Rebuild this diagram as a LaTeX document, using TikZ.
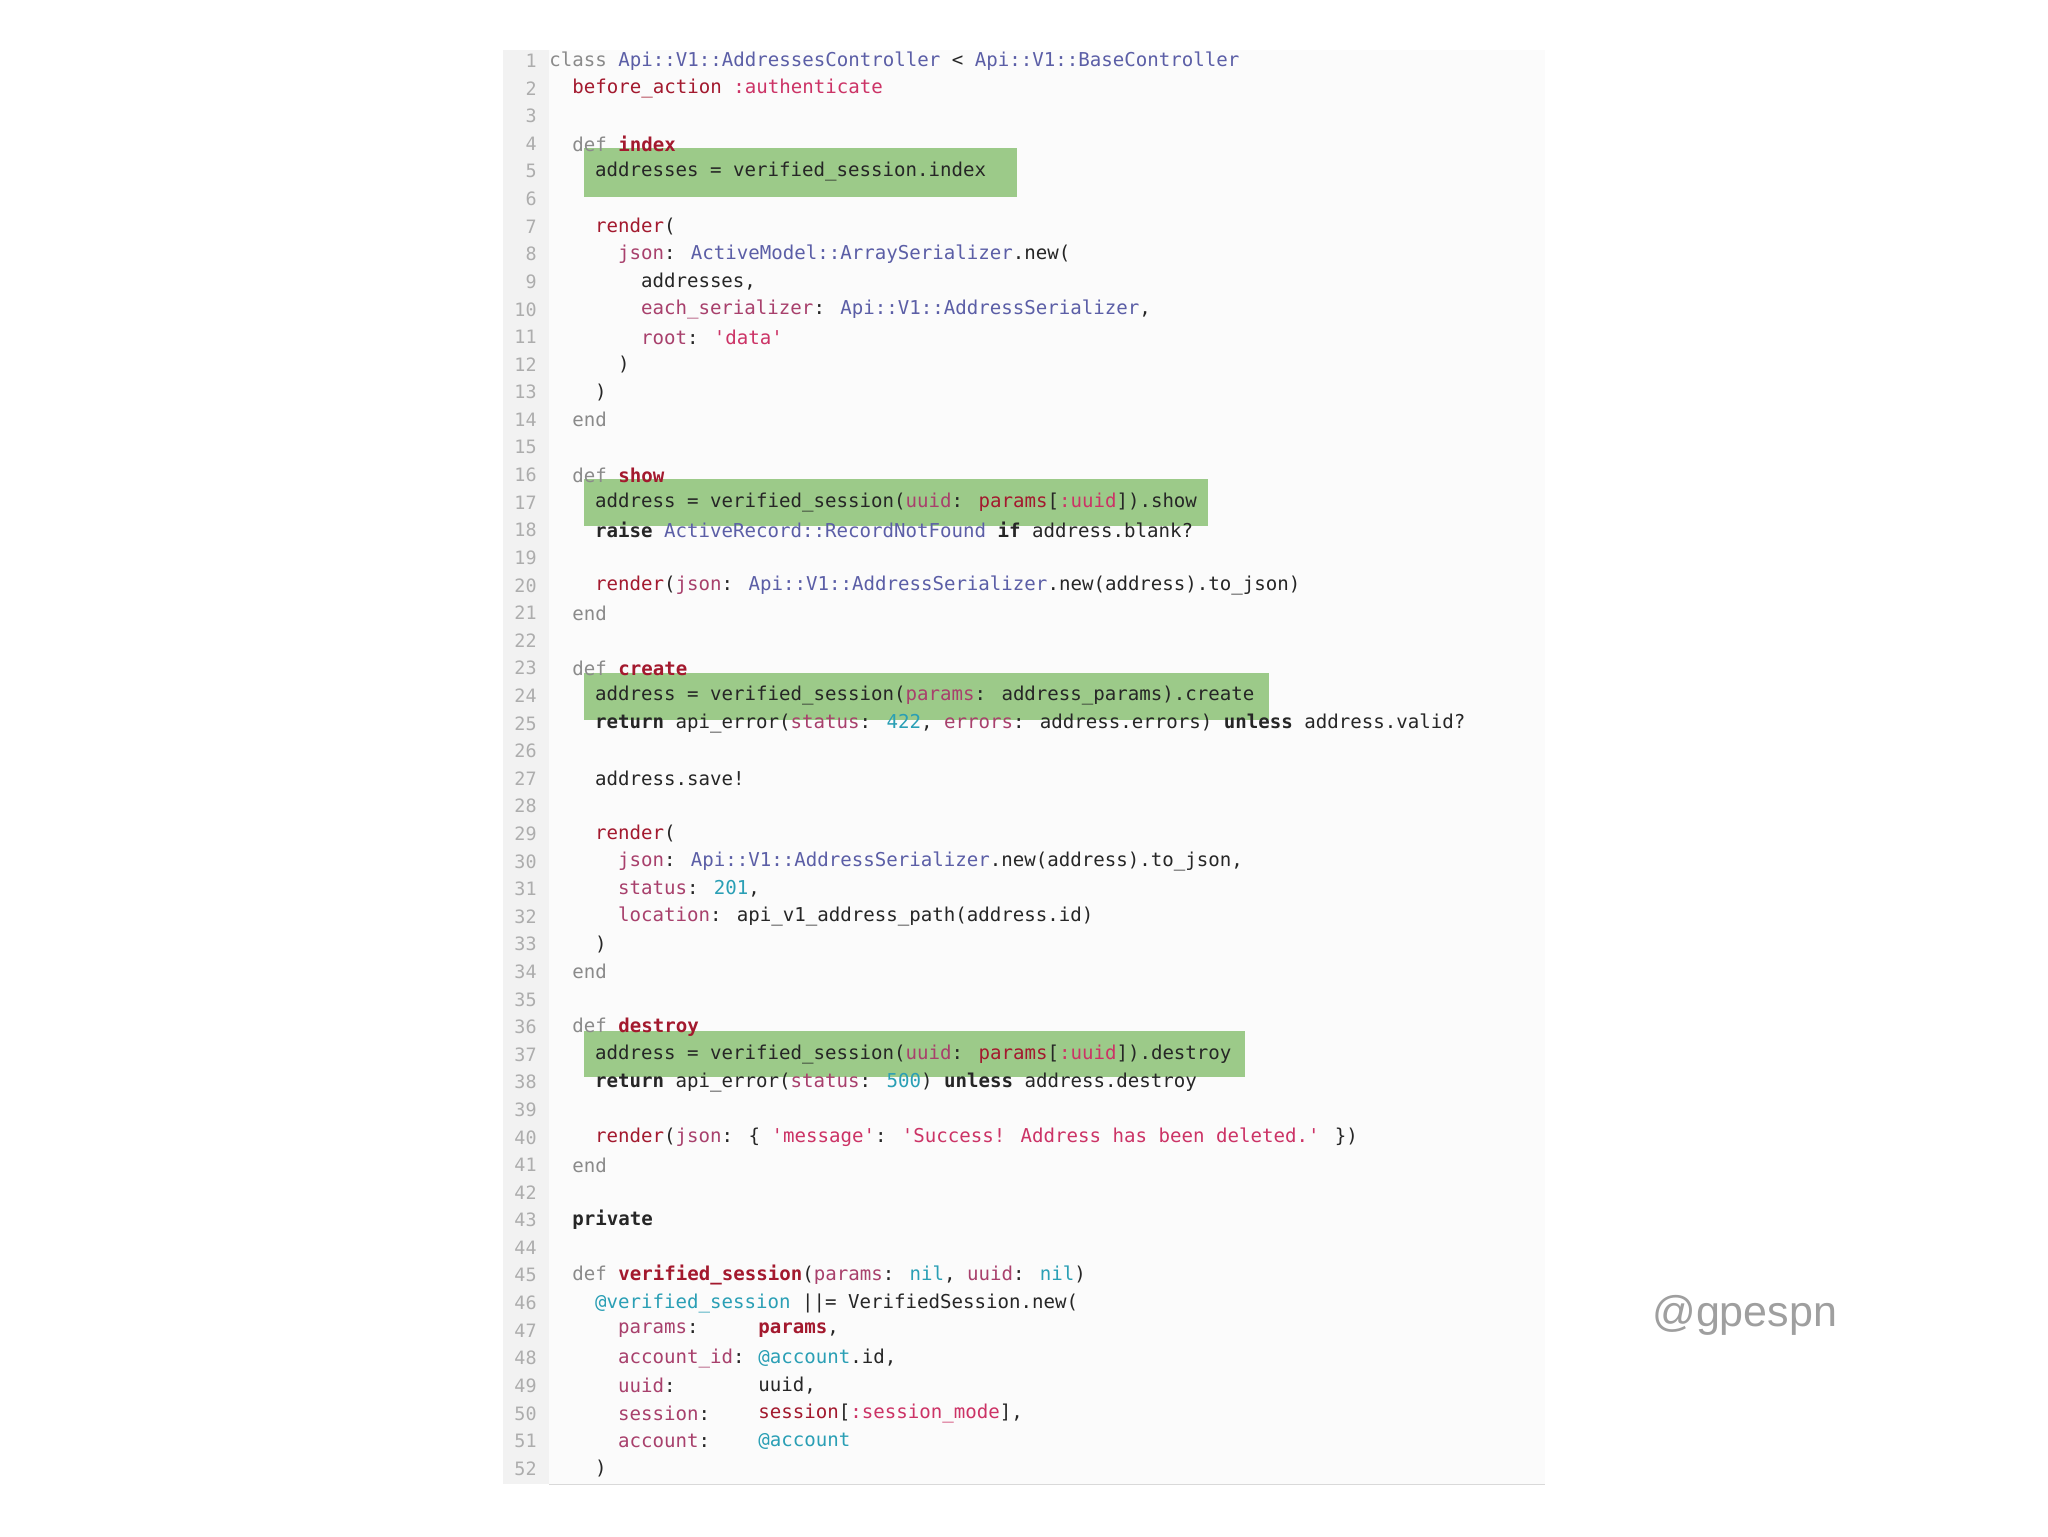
\documentclass[tikz,border=0pt]{standalone}
\usepackage{fontspec}
\newfontfamily\codefont{DejaVu Sans Mono}
\newfontfamily\tagfont{Liberation Sans}
\definecolor{kw}{HTML}{A3192E}
\definecolor{cls}{HTML}{5B5EA6}
\definecolor{sy}{HTML}{CC3366}
\definecolor{ke}{HTML}{A8406C}
\definecolor{nu}{HTML}{2A9FB5}
\definecolor{gr}{HTML}{8A8A8A}
\definecolor{tx}{HTML}{262626}
\definecolor{hl}{HTML}{8CC276}
\newcommand\K[1]{\textcolor{kw}{#1}}
\newcommand\B[1]{{\bfseries #1}}
\newcommand\Cl[1]{\textcolor{cls}{#1}}
\newcommand\Sy[1]{\textcolor{sy}{#1}}
\newcommand\Ke[1]{\textcolor{ke}{#1}}
\newcommand\N[1]{\textcolor{nu}{#1}}
\newcommand\G[1]{\textcolor{gr}{#1}}
\newcommand\q{{\char39}}
\begin{document}
\begin{tikzpicture}[x=0.5pt,y=-0.5pt,
  cl/.style={anchor=west,inner sep=0pt,font=\codefont\fontsize{9.55}{11}\selectfont,text=tx},
  ln/.style={anchor=east,inner sep=0pt,font=\codefont\fontsize{9.2}{11}\selectfont,text=gr!70},
  hlbox/.style={fill=hl,fill opacity=0.85,draw=none}]
\useasboundingbox (0,0) rectangle (2048,1536);
\fill[white] (0,0) rectangle (2048,1536);
\fill[gray!3] (503,50) rectangle (1545,1484);
\fill[gray!10] (503,50) rectangle (549,1484);
\draw[gray!30] (549,1484) -- (1545,1484);
\foreach \i in {1,...,52} \node[ln] (n\i) at (537,{61+(\i-1)*27.6}) {\i};
\fill[hlbox] (584,148) rectangle (1017,197);
\fill[hlbox] (584,479) rectangle (1208,526);
\fill[hlbox] (584,673) rectangle (1269,720);
\fill[hlbox] (584,1031) rectangle (1245,1077);
\newcommand\CodeLine[3]{\node[cl] (l#1) at ({549+#2*11.45},{61+(#1-1)*27.6}) {#3};}
\CodeLine{1}{0}{\G{class} \Cl{Api::V1::AddressesController} < \Cl{Api::V1::BaseController}}
\CodeLine{2}{2}{\K{before\_action} \Sy{:authenticate}}
\CodeLine{4}{2}{\G{def} \K{\bfseries index}}
\CodeLine{5}{4}{addresses = verified\_session.index}
\CodeLine{7}{4}{\K{render}(}
\CodeLine{8}{6}{\Ke{json}: \Cl{ActiveModel::ArraySerializer}.new(}
\CodeLine{9}{8}{addresses,}
\CodeLine{10}{8}{\Ke{each\_serializer}: \Cl{Api::V1::AddressSerializer},}
\CodeLine{11}{8}{\Ke{root}: \Sy{\q data\q}}
\CodeLine{12}{6}{)}
\CodeLine{13}{4}{)}
\CodeLine{14}{2}{\G{end}}
\CodeLine{16}{2}{\G{def} \K{\bfseries show}}
\CodeLine{17}{4}{address = verified\_session(\Ke{uuid}: \K{params}[\Sy{:uuid}]).show}
\CodeLine{18}{4}{\B{raise} \Cl{ActiveRecord::RecordNotFound} \B{if} address.blank?}
\CodeLine{20}{4}{\K{render}(\Ke{json}: \Cl{Api::V1::AddressSerializer}.new(address).to\_json)}
\CodeLine{21}{2}{\G{end}}
\CodeLine{23}{2}{\G{def} \K{\bfseries create}}
\CodeLine{24}{4}{address = verified\_session(\Ke{params}: address\_params).create}
\CodeLine{25}{4}{\B{return} api\_error(\Ke{status}: \N{422}, \Ke{errors}: address.errors) \B{unless} address.valid?}
\CodeLine{27}{4}{address.save!}
\CodeLine{29}{4}{\K{render}(}
\CodeLine{30}{6}{\Ke{json}: \Cl{Api::V1::AddressSerializer}.new(address).to\_json,}
\CodeLine{31}{6}{\Ke{status}: \N{201},}
\CodeLine{32}{6}{\Ke{location}: api\_v1\_address\_path(address.id)}
\CodeLine{33}{4}{)}
\CodeLine{34}{2}{\G{end}}
\CodeLine{36}{2}{\G{def} \K{\bfseries destroy}}
\CodeLine{37}{4}{address = verified\_session(\Ke{uuid}: \K{params}[\Sy{:uuid}]).destroy}
\CodeLine{38}{4}{\B{return} api\_error(\Ke{status}: \N{500}) \B{unless} address.destroy}
\CodeLine{40}{4}{\K{render}(\Ke{json}: \{ \Sy{\q message\q}: \Sy{\q Success! Address has been deleted.\q} \})}
\CodeLine{41}{2}{\G{end}}
\CodeLine{43}{2}{\B{private}}
\CodeLine{45}{2}{\G{def} \K{\bfseries verified\_session}(\Ke{params}: \N{nil}, \Ke{uuid}: \N{nil})}
\CodeLine{46}{4}{\N{@verified\_session} ||= VerifiedSession.new(}
\CodeLine{47}{6}{\Ke{params}:}
\CodeLine{48}{6}{\Ke{account\_id}:}
\CodeLine{49}{6}{\Ke{uuid}:}
\CodeLine{50}{6}{\Ke{session}:}
\CodeLine{51}{6}{\Ke{account}:}
\node[cl] (v47) at (758,{61+46*27.6}) {\K{\bfseries params},};
\node[cl] (v48) at (758,{61+47*27.6}) {\N{@account}.id,};
\node[cl] (v49) at (758,{61+48*27.6}) {uuid,};
\node[cl] (v50) at (758,{61+49*27.6}) {\K{session}[\Sy{:session\_mode}],};
\node[cl] (v51) at (758,{61+50*27.6}) {\N{@account}};
\CodeLine{52}{4}{)}
\node[anchor=west,inner sep=0pt,font=\tagfont\fontsize{21.5}{24}\selectfont,text=gray!75] (handle) at (1652,1315) {@gpespn};
\end{tikzpicture}
\end{document}
